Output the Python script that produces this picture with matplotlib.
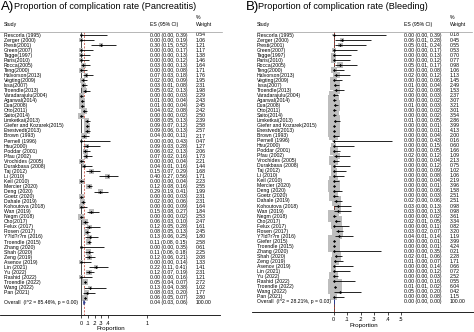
import matplotlib
matplotlib.use("Agg")
import matplotlib.pyplot as plt
import matplotlib.transforms as mtransforms
from matplotlib.lines import Line2D

plt.rcParams['font.family'] = ['Liberation Sans', 'DejaVu Sans']

W, H = 474, 332

# ---------------- Panel A: pancreatitis ----------------
studies_a = ["Rescorla (1995)", "Zerger (2000)", "Presti(2001)", "Green(2007)", "Tagge(1997)",
             "Paris(2010)", "Rocca(2005)", "Teng(2000)", "Halvorson(2013)", "Vegting(2009)",
             "Issa(2007)", "Troendle(2013)", "Varadarajulu(2004)", "Agarwal(2014)", "Dua(2008)",
             "Otto(2011)", "Saito(2014)", "Limketkai(2013)", "Giefer and Kozarek(2015)",
             "Enestvedt(2013)", "Brown (1993)", "Pernell (1996)", "Hsu(2000)", "Poddar (2001)",
             "Pfau (2002)", "Vrochides (2005)", "Durakbasa (2008)", "Taj (2012)", "Li (2010)",
             "Keil (2010)", "Mercier (2020)", "Deng (2020)", "Goetz (2020)", "Dahale (2019)",
             "Kohoutova (2018)", "Wan (2019)", "Negm (2018)", "Cho(2017)", "Felux (2017)",
             "Rosen (2017)", "Y?ld?r?m (2016)", "Troendle (2015)", "Zhang (2020)", "Shah (2020)",
             "Zeng (2019)", "Asenov (2019)", "Lin (2021)", "Yu (2022)", "Rashid (2022)",
             "Troendle (2022)", "Wang (2022)", "Pan (2021)", ""]
es_a = [0.00, 0.00, 0.30, 0.00, 0.00, 0.00, 0.03, 0.00, 0.07, 0.02, 0.03, 0.05, 0.00, 0.01,
        0.01, 0.04, 0.00, 0.08, 0.09, 0.09, 0.04, 0.00, 0.09, 0.06, 0.07, 0.00, 0.04, 0.15,
        0.40, 0.00, 0.12, 0.29, 0.00, 0.02, 0.00, 0.15, 0.00, 0.06, 0.12, 0.08, 0.13, 0.11,
        0.00, 0.11, 0.12, 0.00, 0.22, 0.12, 0.00, 0.05, 0.13, 0.08, 0.06]
lo_a = [0.00, 0.00, 0.15, 0.00, 0.00, 0.00, 0.00, 0.00, 0.03, 0.00, 0.01, 0.02, 0.00, 0.00,
        0.00, 0.02, 0.00, 0.05, 0.07, 0.06, 0.00, 0.00, 0.03, 0.02, 0.02, 0.00, 0.01, 0.07,
        0.27, 0.00, 0.08, 0.19, 0.00, 0.00, 0.00, 0.08, 0.00, 0.03, 0.05, 0.05, 0.06, 0.08,
        0.00, 0.06, 0.06, 0.00, 0.11, 0.07, 0.00, 0.04, 0.04, 0.03, 0.05]
hi_a = [0.39, 0.19, 0.52, 0.17, 0.13, 0.12, 0.13, 0.08, 0.18, 0.09, 0.08, 0.13, 0.03, 0.04,
        0.04, 0.08, 0.02, 0.13, 0.12, 0.13, 0.11, 0.43, 0.28, 0.13, 0.16, 0.04, 0.16, 0.29,
        0.56, 0.04, 0.16, 0.41, 0.03, 0.06, 0.09, 0.27, 0.02, 0.10, 0.28, 0.13, 0.25, 0.15,
        0.35, 0.18, 0.21, 0.14, 0.41, 0.19, 0.16, 0.07, 0.38, 0.20, 0.07]
wt_a = [0.54, 1.06, 1.21, 1.17, 1.38, 1.46, 1.64, 1.71, 1.76, 1.95, 2.31, 1.98, 2.29, 2.43,
        2.45, 2.42, 2.50, 2.39, 2.58, 2.57, 2.17, 0.47, 1.27, 2.06, 1.73, 2.21, 1.44, 1.68,
        1.71, 2.23, 2.55, 1.99, 2.31, 2.31, 1.64, 1.84, 2.53, 2.47, 1.61, 2.45, 1.80, 2.58,
        0.61, 2.25, 2.08, 1.33, 1.41, 2.31, 1.21, 2.72, 1.02, 1.77, 2.80]
overall_a = (0.04, 0.03, 0.06)
het_a = "Overall  (I^2 = 85.46%, p = 0.00)"
ticks_a = [0, 0.1, 0.2, 0.3, 0.4, 1]
ticklabels_a = ["0", ".1", ".2", ".3", ".4", "1"]

# ---------------- Panel B: bleeding ----------------
studies_b = ["Rescorla (1995)", "Zerger (2000)", "Presti(2001)", "Green(2007)", "Tagge(1997)",
             "Paris(2010)", "Rocca(2005)", "Teng(2000)", "Halvorson(2013)", "Vegting(2009)",
             "Issa(2007)", "Troendle(2013)", "Varadarajulu(2004)", "Agarwal(2014)", "Dua(2008)",
             "Otto(2011)", "Saito(2014)", "Limketkai(2013)", "Giefer and Kozarek(2015)",
             "Enestvedt(2013)", "Brown (1993)", "Pernell (1996)", "Hsu(2000)", "Poddar (2001)",
             "Pfau (2002)", "Vrochides (2005)", "Durakbasa (2008)", "Taj (2012)", "Li (2010)",
             "Keil (2010)", "Mercier (2020)", "Deng (2020)", "Goetz (2020)", "Dahale (2019)",
             "Kohoutova (2018)", "Wan (2019)", "Negm (2018)", "Cho(2017)", "Felux (2017)",
             "Rosen (2017)", "Y?ld?r?m (2016)", "Giefer (2015)", "Troendle (2015)",
             "Zhang (2020)", "Shah (2020)", "Zeng (2019)", "Asenov (2019)", "Lin (2021)",
             "Yu (2022)", "Rashid (2022)", "Troendle (2022)", "Wang (2022)", "Pan (2021)"]
es_b = [0.00, 0.06, 0.05, 0.00, 0.00, 0.00, 0.05, 0.00, 0.02, 0.00, 0.01, 0.02, 0.00, 0.00,
        0.01, 0.00, 0.00, 0.01, 0.00, 0.00, 0.00, 0.00, 0.00, 0.00, 0.02, 0.00, 0.00, 0.00,
        0.00, 0.00, 0.00, 0.00, 0.00, 0.02, 0.03, 0.03, 0.00, 0.02, 0.00, 0.03, 0.04, 0.00,
        0.00, 0.00, 0.02, 0.01, 0.00, 0.00, 0.00, 0.00, 0.01, 0.05, 0.00]
lo_b = [0.00, 0.01, 0.01, 0.00, 0.00, 0.00, 0.01, 0.00, 0.00, 0.00, 0.00, 0.00, 0.00, 0.00,
        0.00, 0.00, 0.00, 0.00, 0.00, 0.00, 0.00, 0.00, 0.00, 0.00, 0.00, 0.00, 0.00, 0.00,
        0.00, 0.00, 0.00, 0.00, 0.00, 0.00, 0.00, 0.00, 0.00, 0.01, 0.00, 0.02, 0.01, 0.00,
        0.00, 0.00, 0.01, 0.00, 0.00, 0.00, 0.00, 0.00, 0.01, 0.00, 0.00]
hi_b = [0.39, 0.28, 0.24, 0.17, 0.13, 0.12, 0.17, 0.08, 0.12, 0.06, 0.04, 0.08, 0.03, 0.02,
        0.03, 0.02, 0.02, 0.05, 0.01, 0.01, 0.04, 0.43, 0.15, 0.05, 0.12, 0.04, 0.12, 0.09,
        0.08, 0.04, 0.01, 0.06, 0.03, 0.06, 0.13, 0.13, 0.02, 0.05, 0.11, 0.07, 0.14, 0.01,
        0.01, 0.35, 0.06, 0.07, 0.14, 0.12, 0.03, 0.16, 0.02, 0.20, 0.08]
wt_b = [0.18, 0.45, 0.55, 0.53, 0.70, 0.77, 0.98, 1.06, 1.13, 1.45, 2.49, 1.53, 2.37, 3.07,
        3.21, 3.01, 3.54, 2.86, 3.99, 4.13, 2.00, 0.16, 0.60, 1.66, 1.09, 2.13, 0.75, 1.02,
        1.06, 2.19, 3.96, 1.58, 2.51, 2.51, 0.98, 0.98, 3.61, 3.34, 0.82, 3.20, 1.19, 3.99,
        4.24, 0.21, 2.28, 1.71, 0.66, 0.72, 2.52, 0.55, 6.04, 0.42, 1.15]
overall_b = (0.00, 0.00, 0.00)
het_b = "Overall  (I^2 = 28.21%, p = 0.03)"
ticks_b = [0, 0.1, 0.2, 0.3, 0.4, 0.5]
ticklabels_b = ["0", ".1", ".2", ".3", ".4", ".5"]

fig = plt.figure(figsize=(W / 100, H / 100), dpi=100)
fig.patch.set_facecolor("white")

FS = 3.7
BOX = "#bdbdbd"


def fx(px):
    return px / W


def fy(py):
    return 1 - py / H


def forest(ax_px, row_px, xmap, cols, labels, es, lo, hi, wt, overall, het,
           ticks, ticklabels, box_k, header_span, title_letter, title_text, title_px,
           xtitle_px):
    x0, x1, y_axis = ax_px
    y_first, step = row_px
    zero_px, unit_px = xmap
    ax = fig.add_axes([fx(x0), fy(y_axis), (x1 - x0) / W, y_axis / H])
    ax.set_xlim((x0 - zero_px) / unit_px, (x1 - zero_px) / unit_px)
    ax.set_ylim(1 + (y_axis - y_first) / step, 1 - y_first / step)
    ax.patch.set_alpha(0)
    for s in ("top", "right", "left"):
        ax.spines[s].set_visible(False)
    ax.spines["bottom"].set_linewidth(0.6)
    ax.set_yticks([])
    ax.set_xticks(ticks)
    ax.set_xticklabels(ticklabels, fontsize=3.9)
    ax.tick_params(axis="x", length=2.5, width=0.5, pad=1.5)

    n = len(es)
    rows = list(range(1, n + 1))
    r_over = n + 1
    bottom = ax.get_ylim()[0]

    # reference lines: null at zero, pooled estimate dashed
    ax.plot([0, 0], [0.4, bottom], color="black", lw=0.5, zorder=1)
    ax.plot([overall[0], overall[0]], [0.4, bottom], color="#c0392b", lw=0.5,
            ls=(0, (3, 2)), zorder=1)

    # weight boxes, CIs, point estimates
    sizes = [(box_k * w ** 0.5 * 0.72) ** 2 for w in wt]
    ax.scatter(es, rows, s=sizes, marker="s", color=BOX, linewidths=0, zorder=2)
    ax.hlines(rows, lo, hi, color="black", lw=0.6, zorder=3)
    ax.scatter(es, rows, s=2.4, marker="D", color="black", linewidths=0, zorder=4)

    # pooled diamond
    e, l, h = overall
    ax.fill([l, e, h, e], [r_over, r_over - 0.45, r_over, r_over + 0.45],
            color="#2c3e8f", lw=0.4, edgecolor="#2c3e8f", zorder=4)

    tr = mtransforms.blended_transform_factory(fig.transFigure, ax.transData)
    lab_x, es_x, wt_x = cols
    for r, name, a, b, c, w in zip(rows, labels, es, lo, hi, wt):
        ax.text(fx(lab_x), r, name, transform=tr, fontsize=FS, va="center", ha="left")
        ax.text(fx(es_x), r, f"{a:.2f} ({b:.2f}, {c:.2f})", transform=tr,
                fontsize=FS, va="center", ha="left")
        ax.text(fx(wt_x), r, f"{w:.2f}", transform=tr, fontsize=FS, va="center", ha="left")
    ax.text(fx(lab_x), r_over, het, transform=tr, fontsize=FS, va="center", ha="left")
    ax.text(fx(es_x), r_over, f"{e:.2f} ({l:.2f}, {h:.2f})", transform=tr,
            fontsize=FS, va="center", ha="left")
    ax.text(fx(wt_x), r_over, "100.00", transform=tr, fontsize=FS, va="center", ha="left")

    # column headers
    ax.text(fx(lab_x), -1.0, "Study", transform=tr, fontsize=FS, va="center")
    ax.text(fx(es_x), -1.0, "ES (95% CI)", transform=tr, fontsize=FS, va="center")
    ax.text(fx(wt_x), -2.4, "%", transform=tr, fontsize=FS, va="center")
    ax.text(fx(wt_x), -1.0, "Weight", transform=tr, fontsize=FS, va="center")
    hx0, hx1 = header_span
    fig.add_artist(Line2D([fx(hx0), fx(hx1)], [fy(31.5), fy(31.5)], color="#9a9a9a",
                          lw=0.5, transform=fig.transFigure))

    ax.text(fx(xtitle_px), fy(y_axis + 13.5), "Proportion", transform=fig.transFigure,
            fontsize=4.5, ha="center", va="center")

    tx, ty = title_px
    fig.text(fx(tx), fy(ty), title_letter, fontsize=9.5, va="center", ha="left")
    fig.text(fx(tx + 12.5), fy(ty - 0.5), title_text, fontsize=6.6, va="center", ha="left")
    return ax


forest((0, 220, 315), (35, 5.05), (81.3, 66.0), (4, 150, 196), studies_a, es_a, lo_a, hi_a,
       wt_a, overall_a, het_a, ticks_a, ticklabels_a, 3.6, (0, 222),
       "A)", "Proportion of complication rate (Pancreatitis)", (1, 7), 111)

forest((252, 474, 311.7), (35, 5.03), (333.7, 135.0), (257, 404, 450), studies_b, es_b,
       lo_b, hi_b, wt_b, overall_b, het_b, ticks_b, ticklabels_b, 6.0, (257, 472),
       "B)", "Proportion of complication rate (Bleeding)", (246, 7), 364)

fig.savefig("out.png", dpi=100, facecolor="white")
